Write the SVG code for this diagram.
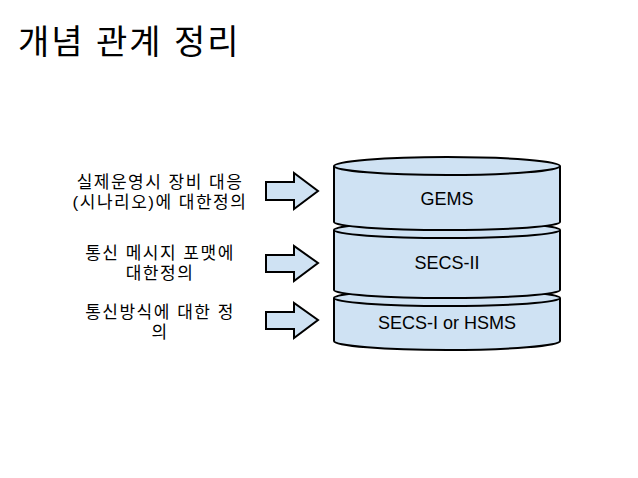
<svg xmlns="http://www.w3.org/2000/svg" width="638" height="478" viewBox="0 0 638 478">
<style>
.c{fill:#cfe2f3;stroke:#000;stroke-width:2}
.t{font-family:"Liberation Sans","Noto Sans CJK KR",sans-serif;fill:#000}
.l{font-size:17px;text-anchor:middle;letter-spacing:1.5px}
.n{font-size:18px;text-anchor:middle}
.a{fill:#cfe2f3;stroke:#000;stroke-width:2}
</style>
<rect width="638" height="478" fill="#fff"/>
<text class="t" x="18" y="54" font-size="34" letter-spacing="2">개념 관계 정리</text>
<g id="secs1">
<path class="c" d="M334,298 A113,8 0 0 1 560,298 V341 A113,9 0 0 1 334,341 Z"/>
<path class="c" d="M334,298 A113,8 0 0 0 560,298"/>
<text class="t n" x="447" y="329">SECS-I or HSMS</text>
</g>
<g id="secs2">
<path class="c" d="M334,230 A113,8 0 0 1 560,230 V290 A113,8 0 0 1 334,290 Z"/>
<path class="c" d="M334,230 A113,8 0 0 0 560,230"/>
<text class="t n" x="447" y="269">SECS-II</text>
</g>
<g id="gems">
<path class="c" d="M334,166 A113,9 0 0 1 560,166 V222 A113,8 0 0 1 334,222 Z"/>
<path class="c" d="M334,166 A113,9 0 0 0 560,166"/>
<text class="t n" x="447" y="205">GEMS</text>
</g>
<g id="labels">
<text class="t l" x="160" y="188">실제운영시 장비 대응</text>
<text class="t l" x="160" y="208">(시나리오)에 대한정의</text>
<text class="t l" x="160" y="259">통신 메시지 포맷에</text>
<text class="t l" x="160" y="279">대한정의</text>
<text class="t l" x="160" y="318">통신방식에 대한 정</text>
<text class="t l" x="160" y="338">의</text>
</g>
<g id="connectors">
<path class="a" d="M266,182 H294 V173 L318,191 L294,209 V200 H266 Z"/>
<path class="a" d="M266,255 H294 V246 L318,263 L294,281 V272 H266 Z"/>
<path class="a" d="M266,312 H294 V303 L318,320 L294,338 V329 H266 Z"/>
</g>
</svg>
